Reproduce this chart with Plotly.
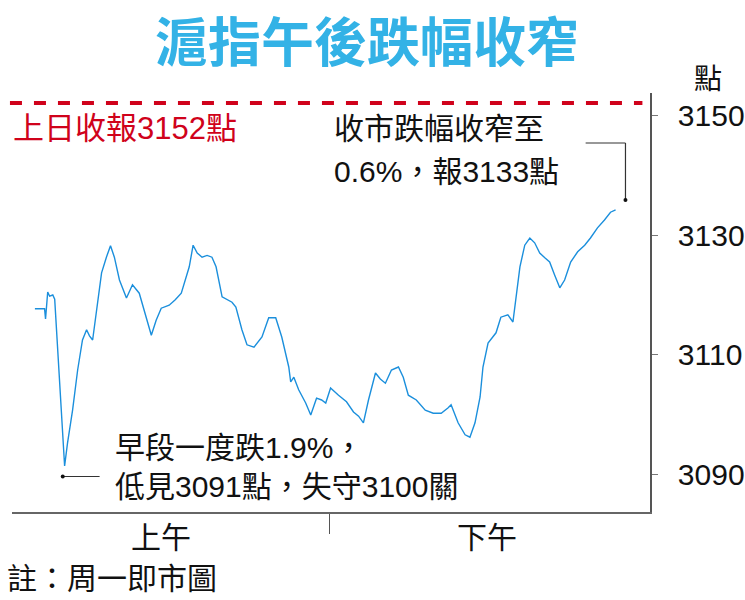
import plotly.graph_objects as go

# ---- data (minutes from open; 120 = midday break) ----
minutes = [-2, 2, 2.4, 3.3, 4.1, 5.4, 6.2, 6.9, 8.2, 9.6, 10.3, 11.5, 13.6, 15.7, 17.7, 19.4,
           20.6, 21.9, 23.5, 25.6, 27.6, 29.3, 30.9, 33, 35.9, 38.4, 41.2, 43.3, 46.2, 48.2,
           50.3, 53.6, 56.1, 58.6, 61.9, 63.5, 65.2, 67.2, 69.3, 71.3, 73, 75.5, 77.5, 79.6,
           81.2, 83.7, 85.8, 88.7, 92, 94.8, 97.7, 100.2, 103.1, 103.9, 105.2, 107.2, 110.1,
           112.2, 114.6, 116.7, 118.4, 120.4, 123.7, 127, 129.9, 132, 134, 136.1, 139, 141,
           143.1, 145.6, 148.5, 150.5, 152.6, 155.9, 159.6, 162.9, 165, 166.2, 169.1, 170.3,
           173.2, 176.1, 178.1, 180.2, 182.3, 183.5, 185.6, 188.9, 190.9, 193.8, 195.9, 197.1,
           198.8, 200.8, 202.9, 204.9, 207, 209.1, 211.1, 213.2, 215.3, 217.3, 219.8, 222.7,
           225.6, 228, 230.9, 233.8, 236.3, 238.4]
index_values = [3117.7, 3117.7, 3116.0, 3120.5, 3119.8, 3120.0, 3119.3, 3114.7, 3104.7, 3096.3,
                3091.5, 3095.3, 3100.8, 3107.5, 3112.5, 3114.2, 3113.2, 3112.5, 3117.5, 3123.7,
                3126.3, 3128.2, 3126.3, 3122.5, 3119.5, 3121.7, 3120.3, 3117.5, 3113.3, 3115.8,
                3117.8, 3118.3, 3119.2, 3120.3, 3124.7, 3128.3, 3127.0, 3126.3, 3126.6, 3126.3,
                3124.7, 3119.7, 3119.2, 3118.8, 3118.0, 3114.2, 3111.7, 3111.3, 3113.0, 3116.2,
                3116.2, 3113.0, 3108.0, 3105.5, 3106.3, 3104.2, 3102.0, 3100.0, 3102.8, 3102.5,
                3102.0, 3104.5, 3103.3, 3102.2, 3100.5, 3099.8, 3098.7, 3102.5, 3107.0, 3106.0,
                3105.3, 3107.5, 3108.0, 3106.3, 3103.3, 3102.5, 3100.8, 3100.3, 3100.3, 3100.3,
                3101.2, 3101.7, 3098.7, 3096.7, 3096.3, 3098.7, 3103.0, 3108.0, 3112.0, 3113.7,
                3116.3, 3116.7, 3115.5, 3119.7, 3124.7, 3128.3, 3129.5, 3128.7, 3127.0, 3126.2,
                3125.5, 3123.3, 3121.2, 3122.5, 3125.5, 3127.2, 3128.3, 3129.5, 3131.2, 3132.5,
                3133.8, 3134.2]
prev_close = 3152
y_ticks = [3090, 3110, 3130, 3150]
session_labels = ["上午", "下午"]
session_centers = [50, 185]  # minutes

W, H = 745, 600
def px(x):
    return x / W
def py(y):
    return 1 - y / H

FONT = "Liberation Sans, Arial, Noto Sans CJK TC, sans-serif"
CJK = "Liberation Sans, Arial, Noto Sans CJK TC, sans-serif"

fig = go.Figure()
fig.add_trace(go.Scatter(x=minutes, y=index_values, mode="lines",
                         line=dict(color="#1b8fdc", width=1.4), hoverinfo="skip"))

fig.add_shape(type="line", xref="paper", yref="y", x0=px(10), x1=px(645),
              y0=prev_close, y1=prev_close,
              line=dict(color="#d0021b", width=4, dash="dash"))

# leader lines
fig.add_shape(type="line", xref="paper", yref="paper", x0=px(588), x1=px(628),
              y0=py(143), y1=py(143), line=dict(color="#333", width=1.2))
fig.add_shape(type="line", xref="paper", yref="paper", x0=px(628), x1=px(628),
              y0=py(143), y1=py(200), line=dict(color="#333", width=1.2))
fig.add_shape(type="circle", xref="paper", yref="paper", x0=px(626), x1=px(630),
              y0=py(198), y1=py(202), fillcolor="#111", line=dict(color="#111", width=0))
fig.add_shape(type="line", xref="paper", yref="paper", x0=px(63), x1=px(100),
              y0=py(476.5), y1=py(476.5), line=dict(color="#333", width=1.2))
fig.add_shape(type="circle", xref="paper", yref="paper", x0=px(61), x1=px(65),
              y0=py(474.5), y1=py(478.5), fillcolor="#111", line=dict(color="#111", width=0))

ann = []
def text(x, y, s, size=30, color="#111", xanchor="left", family=CJK, bold=False,
         yanchor="middle"):
    ann.append(dict(x=px(x), y=py(y), xref="paper", yref="paper", text=s, showarrow=False,
                    xanchor=xanchor, yanchor=yanchor,
                    font=dict(size=size, color=color, family=family,
                              weight="bold" if bold else "normal")))

text(368, 39, "滬指午後跌幅收窄", size=53, color="#33b2e6", xanchor="center",
     family="Noto Sans CJK TC, sans-serif", bold=True)
text(711, 80, "點", size=28, xanchor="center")
text(11, 128, "上日收報3152點", size=31, color="#d0021b")
text(333, 129, "收市跌幅收窄至", size=30)
text(333, 172, "0.6%，報3133點", size=30)
text(113, 447, "早段一度跌1.9%，", size=30)
text(113, 486, "低見3091點，失守3100關", size=30)
text(5, 578, "註：周一即市圖", size=30)
for lab, m in zip(session_labels, session_centers):
    ann.append(dict(x=m, y=py(537), xref="x", yref="paper", text=lab, showarrow=False,
                    xanchor="center", yanchor="middle",
                    font=dict(size=30, color="#111", family=CJK)))

fig.update_layout(
    width=W, height=H, margin=dict(l=0, r=0, t=0, b=0),
    paper_bgcolor="white", plot_bgcolor="white", showlegend=False,
    annotations=ann,
    xaxis=dict(domain=[px(12), px(653)], range=[-11.5, 252.8], showgrid=False, zeroline=False,
               showline=True, linecolor="#666", linewidth=1.5,
               tickvals=[120], ticks="outside", ticklen=20, tickcolor="#555", tickwidth=1,
               showticklabels=False),
    yaxis=dict(domain=[py(512), py(93)], range=[3083.83, 3153.67], side="right",
               showgrid=False, zeroline=False, showline=True, linecolor="#555", linewidth=1.5,
               tickvals=y_ticks, ticks="outside", ticklen=6, tickcolor="#777",
               ticklabelstandoff=14,
               tickfont=dict(size=30, color="#111", family=FONT)),
)

fig.write_html("out.html", config={"displayModeBar": False, "staticPlot": True},
               post_script="document.body.style.margin='0';document.body.style.overflow='hidden';")
